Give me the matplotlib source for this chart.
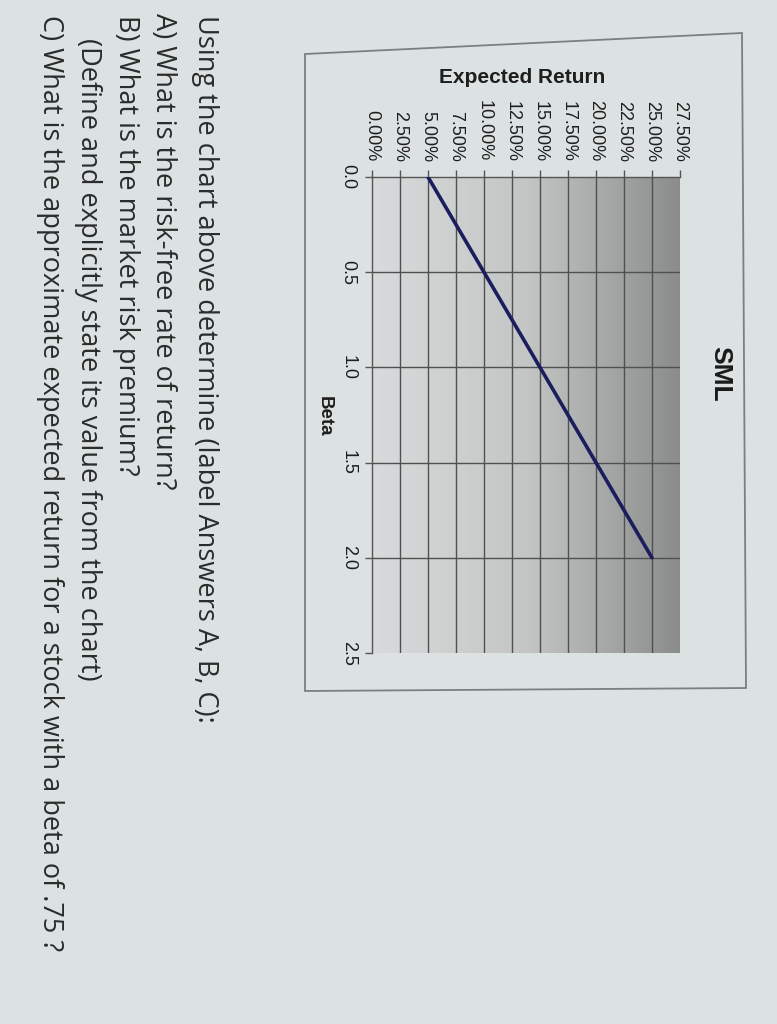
import numpy as np
import matplotlib
matplotlib.use("Agg")
import matplotlib.pyplot as plt
from matplotlib.colors import LinearSegmentedColormap
from matplotlib.patches import Polygon

# ---------------- data ----------------
beta = [0.0, 2.0]
expected_return = [0.05, 0.25]
return_ticks = [0.0, 0.025, 0.05, 0.075, 0.10, 0.125, 0.15, 0.175, 0.20, 0.225, 0.25, 0.275]
return_tick_labels = ["0.00%", "2.50%", "5.00%", "7.50%", "10.00%", "12.50%", "15.00%",
                      "17.50%", "20.00%", "22.50%", "25.00%", "27.50%"]
beta_ticks = [0.0, 0.5, 1.0, 1.5, 2.0, 2.5]
beta_tick_labels = ["0.0", "0.5", "1.0", "1.5", "2.0", "2.5"]
chart_title = "SML"
x_title = "Expected Return"
y_title = "Beta"
question_lines = [
    "Using the chart above determine (label Answers A, B, C):",
    "A) What is the risk-free rate of return?",
    "B) What is the market risk premium?",
    "(Define and explicitly state its value from the chart)",
    "C) What is the approximate expected return for a stock with a beta of .75 ?",
]

# ---------------- layout helpers (pixels) ----------------
W, H = 777, 1024
def fx(px):
    return px / W
def fy(py):
    return 1 - py / H

BG = "#dce1e1"
fig = plt.figure(figsize=(W / 100, H / 100), dpi=100)
fig.patch.set_facecolor(BG)

# chart frame (photo is slightly skewed)
frame_pts = [(305, 54), (742, 33), (746, 688), (305, 691)]
frame = Polygon([(fx(x), fy(y)) for x, y in frame_pts], closed=True, fill=False,
                edgecolor="#7c7f7f", lw=1.3, transform=fig.transFigure)
fig.patches.append(frame)

# plot area: x = expected return (horizontal in the rotated photo), y = beta (downwards)
L, R, T, B = 372, 680, 177, 653
ax = fig.add_axes([fx(L), fy(B), (R - L) / W, (B - T) / H])
ax.set_xlim(return_ticks[0], return_ticks[-1])
ax.set_ylim(beta_ticks[-1], beta_ticks[0])

# gradient plot-area fill
cmap = LinearSegmentedColormap.from_list("shade", ["#d8dbdb", "#c4c6c6", "#8b8c8c"])
grad = np.linspace(0, 1, 256).reshape(1, -1)
ax.imshow(grad, extent=(return_ticks[0], return_ticks[-1], beta_ticks[-1], beta_ticks[0]),
          aspect="auto", cmap=cmap, zorder=0, interpolation="bilinear")

# ticks
ax.set_xticks(return_ticks)
ax.set_xticklabels(return_tick_labels)
ax.set_yticks(beta_ticks)
ax.set_yticklabels(beta_tick_labels)
ax.xaxis.tick_top()
ax.tick_params(axis="x", top=True, bottom=False, labeltop=True, labelbottom=False,
               direction="out", length=5, width=1.0, color="#555555", pad=6,
               labelrotation=-90, labelsize=13, labelcolor="#1e1e1e")
ax.tick_params(axis="y", left=True, right=False, direction="out", length=5, width=1.0,
               color="#555555", pad=6, labelrotation=-90, labelsize=13, labelcolor="#1e1e1e")
for lab in ax.get_xticklabels():
    lab.set_fontfamily("Liberation Sans")
    lab.set_va("bottom")
    lab.set_ha("center")
for lab in ax.get_yticklabels():
    lab.set_fontfamily("Liberation Sans")
    lab.set_va("center")
    lab.set_ha("right")

# grid
ax.grid(True, color="#4f5050", lw=1.0, zorder=1)
ax.set_axisbelow(False)
xg = ax.xaxis.get_gridlines()
yg = ax.yaxis.get_gridlines()
for g in (xg[0], xg[-1], yg[0], yg[-1]):
    g.set_visible(False)

for s in ("right", "bottom"):
    ax.spines[s].set_visible(False)
for s in ("top", "left"):
    ax.spines[s].set_color("#555555")
    ax.spines[s].set_linewidth(1.0)

# SML line
ax.plot(expected_return, beta, color="#1b1d5c", lw=2.6, solid_capstyle="round", zorder=3)

# axis titles
ax.set_xlabel(x_title, fontsize=15, fontweight="bold", family="Liberation Sans",
              color="#1e1e1e")
ax.xaxis.set_label_coords((522 - L) / (R - L), (B - 68) / (B - T))
ax.set_ylabel(y_title, fontsize=13.5, fontweight="bold", family="Liberation Sans",
              color="#1e1e1e", rotation=-90)
ax.yaxis.set_label_coords((324 - L) / (R - L), (B - 416) / (B - T))
ax.yaxis.label.set_va("center")
ax.yaxis.label.set_ha("center")
ax.text((720 - L) / (R - L), (B - 374) / (B - T), chart_title, transform=ax.transAxes,
        rotation=-90, ha="center", va="center", fontsize=19, fontweight="bold",
        family="Liberation Sans", color="#1a1a1a")

# question text (rotated with the photo)
baselines = [198, 156, 119, 81, 43]
starts = [15, 13, 15, 38, 15]
texts = []
for s, bx, sy in zip(question_lines, baselines, starts):
    t = fig.text(fx(bx), fy(sy), s, rotation=-90, rotation_mode="anchor",
                 ha="left", va="baseline", fontsize=10, family="Open Sans",
                 color="#2a2c2c")
    texts.append(t)

fig.canvas.draw()
r = fig.canvas.get_renderer()
length = texts[-1].get_window_extent(r).height
fs = 10 * (952 - 15) / length
for t in texts:
    t.set_fontsize(fs)

fig.savefig("out.png", dpi=100, facecolor=BG)
